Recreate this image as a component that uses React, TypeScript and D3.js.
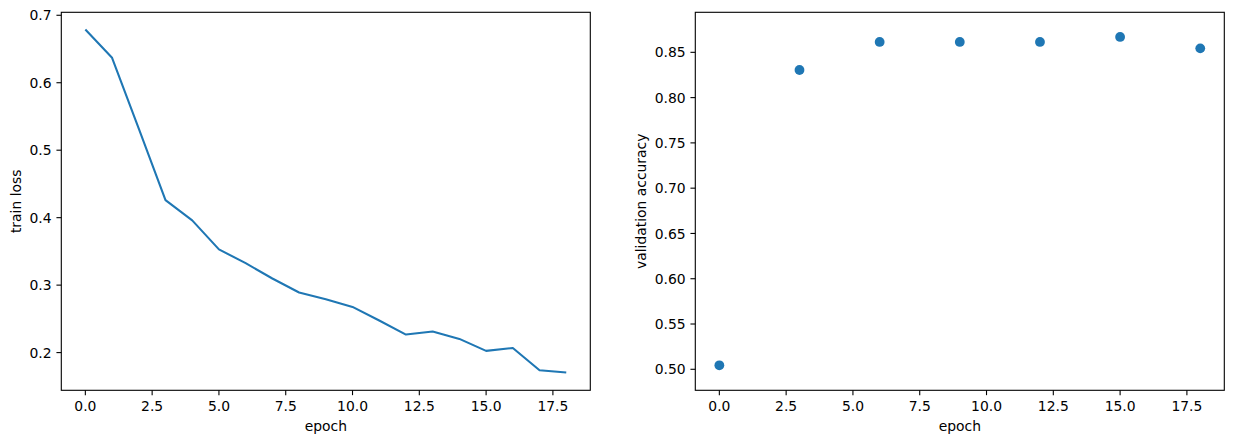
import React from "react";
import * as d3 from "d3";

const epochs = d3.range(0, 19);
const trainLoss = [0.679, 0.637, 0.532, 0.426, 0.396, 0.353, 0.3325, 0.3098, 0.289, 0.2791, 0.2677, 0.2475, 0.2267, 0.2312, 0.2203, 0.2025, 0.2069, 0.1738, 0.1704];
const valEpochs = [0, 3, 6, 9, 12, 15, 18];
const valAcc = [0.5044, 0.8305, 0.8615, 0.8615, 0.8615, 0.867, 0.8544];
const xTicks = [0, 2.5, 5, 7.5, 10, 12.5, 15, 17.5];
const lossTicks = [0.2, 0.3, 0.4, 0.5, 0.6, 0.7];
const accTicks = [0.5, 0.55, 0.6, 0.65, 0.7, 0.75, 0.8, 0.85];

const W = 1233;
const H = 443;
const FS = 13.9;
const TICK = 4.86;
const PAD = 4.86;
const COLOR = "#1f77b4";
const FONT = "DejaVu Sans, sans-serif";

type PanelProps = {
  left: number;
  top: number;
  width: number;
  height: number;
  xDomain: [number, number];
  yDomain: [number, number];
  yTicks: number[];
  yFmt: (v: number) => string;
  ylabel: string;
  ylabelX: number;
  children: (x: d3.ScaleLinear<number, number>, y: d3.ScaleLinear<number, number>) => React.ReactNode;
};

function Panel(p: PanelProps) {
  const x = d3.scaleLinear().domain(p.xDomain).range([p.left, p.left + p.width]);
  const y = d3.scaleLinear().domain(p.yDomain).range([p.top + p.height, p.top]);
  const bottom = p.top + p.height;
  const cx = p.left + p.width / 2;
  const cy = p.top + p.height / 2;
  return (
    <g>
      <defs>
        <clipPath id={`clip-${p.left}`}>
          <rect x={p.left} y={p.top} width={p.width} height={p.height} />
        </clipPath>
      </defs>
      <g clipPath={`url(#clip-${p.left})`}>{p.children(x, y)}</g>
      <rect x={p.left} y={p.top} width={p.width} height={p.height} fill="none" stroke="#000" strokeWidth={1.1} />
      {xTicks.map((t) => (
        <g key={`x${t}`}>
          <line x1={x(t)} x2={x(t)} y1={bottom} y2={bottom + TICK} stroke="#000" strokeWidth={1.1} />
          <text x={x(t)} y={bottom + TICK + PAD + 0.76 * FS} textAnchor="middle" fontSize={FS} fontFamily={FONT} fill="#000">
            {d3.format(".1f")(t)}
          </text>
        </g>
      ))}
      {p.yTicks.map((t) => (
        <g key={`y${t}`}>
          <line x1={p.left - TICK} x2={p.left} y1={y(t)} y2={y(t)} stroke="#000" strokeWidth={1.1} />
          <text x={p.left - TICK - PAD} y={y(t) + 0.364 * FS} textAnchor="end" fontSize={FS} fontFamily={FONT} fill="#000">
            {p.yFmt(t)}
          </text>
        </g>
      ))}
      <text x={cx} y={430.5} textAnchor="middle" fontSize={FS} fontFamily={FONT} fill="#000">
        epoch
      </text>
      <text
        transform={`translate(${p.ylabelX},${cy}) rotate(-90)`}
        textAnchor="middle"
        fontSize={FS}
        fontFamily={FONT}
        fill="#000"
      >
        {p.ylabel}
      </text>
    </g>
  );
}

export default function App() {
  const line = (x: d3.ScaleLinear<number, number>, y: d3.ScaleLinear<number, number>) =>
    d3
      .line<number>()
      .x((_, i) => x(epochs[i]))
      .y((d) => y(d))(trainLoss) || "";
  return (
    <svg width={W} height={H} style={{ position: "absolute", left: 0, top: 0, background: "#fff" }}>
      <rect width={W} height={H} fill="#fff" />
      <Panel
        left={61.3}
        top={12.3}
        width={529}
        height={378}
        xDomain={[-0.9, 18.9]}
        yDomain={[0.1441, 0.7044]}
        yTicks={lossTicks}
        yFmt={d3.format(".1f")}
        ylabel="train loss"
        ylabelX={21}
      >
        {(x, y) => <path d={line(x, y)} fill="none" stroke={COLOR} strokeWidth={2.08} strokeLinejoin="round" />}
      </Panel>
      <Panel
        left={695.3}
        top={12.3}
        width={529}
        height={378}
        xDomain={[-0.9, 18.9]}
        yDomain={[0.4768, 0.8942]}
        yTicks={accTicks}
        yFmt={d3.format(".2f")}
        ylabel="validation accuracy"
        ylabelX={645.5}
      >
        {(x, y) =>
          valEpochs.map((e, i) => <circle key={e} cx={x(e)} cy={y(valAcc[i])} r={4.9} fill={COLOR} />)
        }
      </Panel>
    </svg>
  );
}
